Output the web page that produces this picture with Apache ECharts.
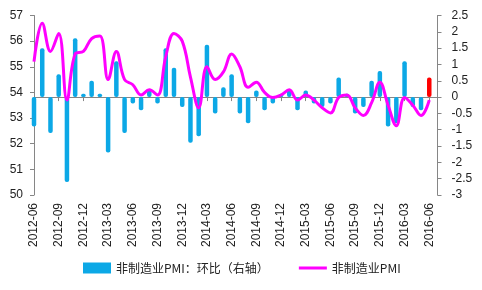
<!DOCTYPE html>
<html>
<head>
<meta charset="utf-8">
<script src="https://cdn.jsdelivr.net/npm/echarts@6/dist/echarts.min.js"></script>
<style>
html, body { margin: 0; padding: 0; background: #fff; }
#main { width: 482px; height: 290px; }
</style>
</head>
<body>
<div id="main"></div>
<script>
// 月份：2012-06 ~ 2016-06，末尾多留一个空月份（与原图横轴留白一致）
var months = [];
for (var y = 2012; y <= 2016; y++) {
    for (var m = 1; m <= 12; m++) {
        if ((y === 2012 && m < 6) || (y === 2016 && m > 7)) continue;
        months.push(y + '-' + (m < 10 ? '0' + m : m));
    }
}

// 非制造业PMI
var pmi = [55.2, 56.7, 55.6, 56.3, 53.7, 55.5, 55.6, 56.1, 56.2, 54.5, 55.6, 54.5,
    54.3, 53.9, 54.1, 53.9, 55.4, 56.3, 56.0, 54.6, 53.4, 55.0, 54.5, 54.8,
    55.5, 55.0, 54.2, 54.4, 54.0, 53.8, 53.9, 54.1, 53.7, 53.9, 53.7, 53.4,
    53.2, 53.8, 53.9, 53.4, 53.1, 53.6, 54.4, 53.5, 52.7, 53.8, 53.5, 53.1, 53.7];

// 非制造业PMI：环比（右轴）
var mom = [-0.9, 1.5, -1.1, 0.7, -2.6, 1.8, 0.1, 0.5, 0.1, -1.7, 1.1, -1.1,
    -0.2, -0.4, 0.2, -0.2, 1.5, 0.9, -0.3, -1.4, -1.2, 1.6, -0.5, 0.3,
    0.7, -0.5, -0.8, 0.2, -0.4, -0.2, 0.1, 0.2, -0.4, 0.2, -0.2, -0.3,
    -0.2, 0.6, 0.1, -0.5, -0.3, 0.5, 0.8, -0.9, -0.8, 1.1, -0.3, -0.4, 0.6];

var barName = '非制造业PMI：环比（右轴）';
var lineName = '非制造业PMI';

var momData = mom.map(function (v, i) {
    if (i === mom.length - 1) {
        return {value: v, itemStyle: {color: '#ff0000'}};
    }
    return v;
});

var axisColor = '#868686';
var textStyle = {color: '#222', fontSize: 12, fontFamily: 'Liberation Sans'};

var myChart = echarts.init(document.getElementById('main'), null, {renderer: 'canvas'});

var option = {
    animation: false,
    backgroundColor: '#fff',
    grid: {left: 34, right: 44.5, top: 15.5, bottom: 95},
    legend: {
        bottom: 11,
        left: 78,
        itemGap: 30,
        itemWidth: 28,
        itemHeight: 11,
        textStyle: {color: '#222', fontSize: 12, fontFamily: 'Noto Sans CJK SC'},
        data: [
            {name: barName, icon: 'rect'},
            // 只画一条线，不要圆点
            {name: lineName, icon: 'path://M0,0L28,0M0,4L28,4L28,7L0,7ZM0,11L28,11'}
        ]
    },
    xAxis: {
        type: 'category',
        data: months,
        boundaryGap: false,
        axisLine: {lineStyle: {color: axisColor}},
        axisTick: {interval: 2, length: 4, lineStyle: {color: axisColor}},
        axisLabel: Object.assign({interval: 2, rotate: 90, margin: 8}, textStyle),
        splitLine: {show: false}
    },
    yAxis: [
        {
            type: 'value',
            min: 50,
            max: 57,
            interval: 1,
            axisLine: {show: true, lineStyle: {color: axisColor}},
            axisTick: {show: true, length: 4, lineStyle: {color: axisColor}},
            axisLabel: Object.assign({margin: 11}, textStyle),
            splitLine: {show: false}
        },
        {
            type: 'value',
            min: -3,
            max: 2.5,
            interval: 0.5,
            position: 'right',
            axisLine: {show: true, lineStyle: {color: axisColor}},
            axisTick: {show: true, length: 4, lineStyle: {color: axisColor}},
            axisLabel: Object.assign({margin: 14}, textStyle),
            splitLine: {show: false}
        }
    ],
    series: [
        {
            name: barName,
            type: 'bar',
            yAxisIndex: 1,
            barWidth: 4.5,
            itemStyle: {color: '#0ca8e6', borderRadius: 2},
            data: momData
        },
        {
            name: lineName,
            type: 'line',
            yAxisIndex: 0,
            smooth: 0.4,
            symbol: 'none',
            lineStyle: {color: '#ff00ff', width: 3},
            itemStyle: {color: '#ff00ff'},
            data: pmi
        }
    ]
};

myChart.setOption(option);
</script>
</body>
</html>
